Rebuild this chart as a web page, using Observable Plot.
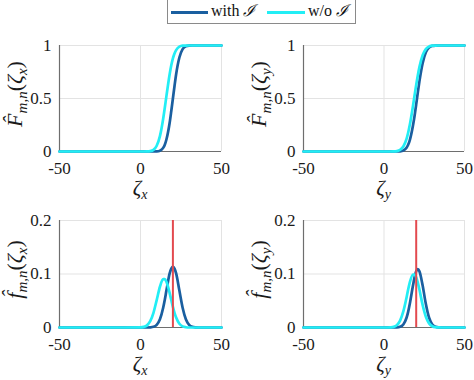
<!DOCTYPE html>
<html>
<head>
<meta charset="utf-8">
<script src="https://cdn.jsdelivr.net/npm/d3@7"></script>
<script src="https://cdn.jsdelivr.net/npm/@observablehq/plot@0.6"></script>
<style>
  html, body { margin: 0; padding: 0; background: #fff; }
  #root { position: relative; width: 474px; height: 380px; overflow: hidden; background: #fff; font-family: 'Liberation Serif', serif; }
  .panel { position: absolute; }
  .panel svg { overflow: visible; }
  #legend { position: absolute; left: 167px; top: -1px; width: 187px; height: 23px; border: 1px solid #8a8a8a; background: #fff; }
  #legend .ln { position: absolute; height: 3px; top: 11px; }
  #legend .tx { position: absolute; top: 2px; font-size: 16px; line-height: 18px; white-space: nowrap; color: #111; font-family: 'Liberation Serif', serif; }
</style>
</head>
<body>
<div id="root">
  <div id="legend"></div>
</div>
<script>
// ---- data ----
const seriesNames = ["with ℐ", "w/o ℐ"];
const xTicks = [-50, 0, 50];
const cdfTicks = [0, 0.5, 1];
const pdfTicks = [0, 0.1, 0.2];
const trueValue = [20];

const zeta = [-50, -40, -30, -20, -10, 0, 2, 4, 6, 8, 10, 12, 14, 15, 16, 18, 19, 20, 21, 22, 24, 26, 28, 30, 32, 34, 36, 40, 45, 50];

const cdfXWith    = [0,0,0,0,0, 0,0,0, 0,0.0001,0.0012,0.0078,0.034,0.064,0.113,0.271,0.382,0.5,0.618,0.729,0.887,0.966,0.992,0.9988,0.9999,1, 1,1,1,1];
const cdfXWithout = [0,0,0,0,0, 0,0.0001,0.0005, 0.0033,0.015,0.054,0.145,0.309,0.413,0.522,0.729,0.813,0.879,0.925,0.957,0.989,0.998,0.9997,1,1,1, 1,1,1,1];
const cdfYWith    = [0,0,0,0,0, 0,0,0, 0,0.0003,0.0018,0.009,0.035,0.063,0.106,0.245,0.338,0.444,0.556,0.662,0.834,0.937,0.981,0.996,0.9993,1, 1,1,1,1];
const cdfYWithout = [0,0,0,0,0, 0,0,0.0001, 0.0007,0.0037,0.015,0.047,0.119,0.177,0.249,0.43,0.53,0.628,0.718,0.796,0.908,0.966,0.99,0.998,0.9996,1, 1,1,1,1];

const pdfXWith    = [0,0,0,0,0, 0,0,0, 0.0003,0.0013,0.005,0.0154,0.037,0.052,0.069,0.101,0.110,0.114,0.110,0.101,0.069,0.037,0.0154,0.005,0.0013,0.0003, 0,0,0,0];
const pdfXWithout = [0,0,0,0,0, 0.0002,0.0011,0.004, 0.0117,0.0275,0.0513,0.0762,0.0904,0.0904,0.0854,0.0643,0.0513,0.0386,0.0275,0.0185,0.007,0.0021,0.0005,0,0,0, 0,0,0,0];
const pdfYWith    = [0,0,0,0,0, 0,0,0, 0,0.0002,0.0013,0.0057,0.0182,0.0293,0.0438,0.0785,0.0942,0.105,0.109,0.105,0.0785,0.0438,0.0182,0.0057,0.0013,0.0002, 0,0,0,0];
const pdfYWithout = [0,0,0,0,0, 0,0,0.0003, 0.0012,0.0044,0.0129,0.030,0.056,0.071,0.084,0.099,0.099,0.094,0.084,0.071,0.042,0.020,0.0077,0.0024,0.0006,0.0001, 0,0,0,0];

// ---- styling ----
const colWith = "#1a5fa0";
const colWithout = "#22eef5";
const colTrue = "#e34a4f";
const gridCol = "#e3e3e3";
const axisCol = "#6e6e6e";
const font = "'Liberation Serif', serif";

function rowsOf(a, b) {
  return zeta.map((z, i) => ({zeta: z, withI: a[i], withoutI: b[i]}));
}

function panel({left, top, width, height, mL, mR, mT, mB, a, b, yDomain, yTicks, fn, sub, showTrue}) {
  const rows = rowsOf(a, b);
  const marks = [
    Plot.gridX(xTicks, {stroke: gridCol, strokeOpacity: 1}),
    Plot.gridY(yTicks, {stroke: gridCol, strokeOpacity: 1}),
    Plot.ruleX([xTicks[0]], {stroke: axisCol, strokeWidth: 1.2}),
    Plot.ruleY([yTicks[0]], {stroke: axisCol, strokeWidth: 1.2}),
    Plot.line(rows, {x: "zeta", y: "withI", stroke: colWith, strokeWidth: 2.7, curve: "monotone-x"}),
    Plot.line(rows, {x: "zeta", y: "withoutI", stroke: colWithout, strokeWidth: 2.7, curve: "monotone-x"})
  ];
  if (showTrue) marks.push(Plot.ruleX(trueValue, {y1: yDomain[0], y2: yDomain[1], stroke: colTrue, strokeWidth: 2}));
  const svg = Plot.plot({
    width, height,
    marginLeft: mL, marginRight: mR, marginTop: mT, marginBottom: mB,
    style: {fontSize: "17px", color: "#1a1a1a", background: "transparent", overflow: "visible"},
    x: {domain: [-50, 50], ticks: xTicks, tickFormat: d => String(d), tickSize: 0, tickPadding: 10, label: null},
    y: {domain: yDomain, ticks: yTicks, tickFormat: d => String(d), tickSize: 0, tickPadding: 8, label: null},
    marks
  });
  const div = document.createElement("div");
  div.className = "panel";
  div.style.left = left + "px";
  div.style.top = top + "px";
  div.appendChild(svg);
  document.getElementById("root").appendChild(div);

  const s = d3.select(svg);
  const fh = height - mT - mB;
  const fw = width - mL - mR;
  // y label
  const yl = s.append("text")
    .attr("transform", `translate(${mL - 37},${mT + fh / 2 - 4}) rotate(-90)`)
    .attr("text-anchor", "middle")
    .attr("font-size", 22)
    .attr("fill", "#1a1a1a");
  yl.append("tspan").attr("font-style", "italic").text(fn + "\u0302");
  yl.append("tspan").attr("font-style", "italic").attr("font-size", 15).attr("dy", 5).text("m,n");
  yl.append("tspan").attr("dy", -5).text("(");
  yl.append("tspan").attr("font-style", "italic").text("ζ");
  yl.append("tspan").attr("font-style", "italic").attr("font-size", 15).attr("dy", 5).text(sub);
  yl.append("tspan").attr("dy", -5).text(")");
  // x label
  const xl = s.append("text")
    .attr("x", mL + fw / 2)
    .attr("y", mT + fh + 44)
    .attr("text-anchor", "middle")
    .attr("font-size", 21)
    .attr("fill", "#1a1a1a");
  xl.append("tspan").attr("font-style", "italic").text("ζ");
  xl.append("tspan").attr("font-style", "italic").attr("font-size", 14).attr("dy", 4).text(sub);
  // force the serif face on every text element
  s.style("font-family", font);
  s.selectAll("g").style("font-family", font);
  s.selectAll("text").style("font-family", font);
}

panel({left: 0,   top: 30,  width: 237, height: 170, mL: 59, mR: 16, mT: 15, mB: 49, a: cdfXWith, b: cdfXWithout, yDomain: [0, 1],   yTicks: cdfTicks, fn: "F", sub: "x", showTrue: false});
panel({left: 237, top: 30,  width: 237, height: 170, mL: 66, mR: 10, mT: 15, mB: 49, a: cdfYWith, b: cdfYWithout, yDomain: [0, 1],   yTicks: cdfTicks, fn: "F", sub: "y", showTrue: false});
panel({left: 0,   top: 200, width: 237, height: 180, mL: 59, mR: 16, mT: 20, mB: 53, a: pdfXWith, b: pdfXWithout, yDomain: [0, 0.2], yTicks: pdfTicks, fn: "f", sub: "x", showTrue: true});
panel({left: 237, top: 200, width: 237, height: 180, mL: 66, mR: 10, mT: 20, mB: 53, a: pdfYWith, b: pdfYWithout, yDomain: [0, 0.2], yTicks: pdfTicks, fn: "f", sub: "y", showTrue: true});

// legend (HTML, above the plots)
const legend = document.getElementById("legend");
const root = document.getElementById("root");
root.appendChild(legend);
const entries = [
  {name: seriesNames[0], color: colWith, lineX: 3, lineW: 37, textX: 43},
  {name: seriesNames[1], color: colWithout, lineX: 99, lineW: 38, textX: 140}
];
for (const e of entries) {
  const ln = document.createElement("div");
  ln.className = "ln";
  ln.style.left = e.lineX + "px";
  ln.style.width = e.lineW + "px";
  ln.style.background = e.color;
  legend.appendChild(ln);
  const tx = document.createElement("div");
  tx.className = "tx";
  tx.style.left = e.textX + "px";
  const parts = e.name.split(" ");
  tx.innerHTML = parts[0] + " <span style=\"font-style:italic\">" + parts[1] + "</span>";
  legend.appendChild(tx);
}
</script>
</body>
</html>
